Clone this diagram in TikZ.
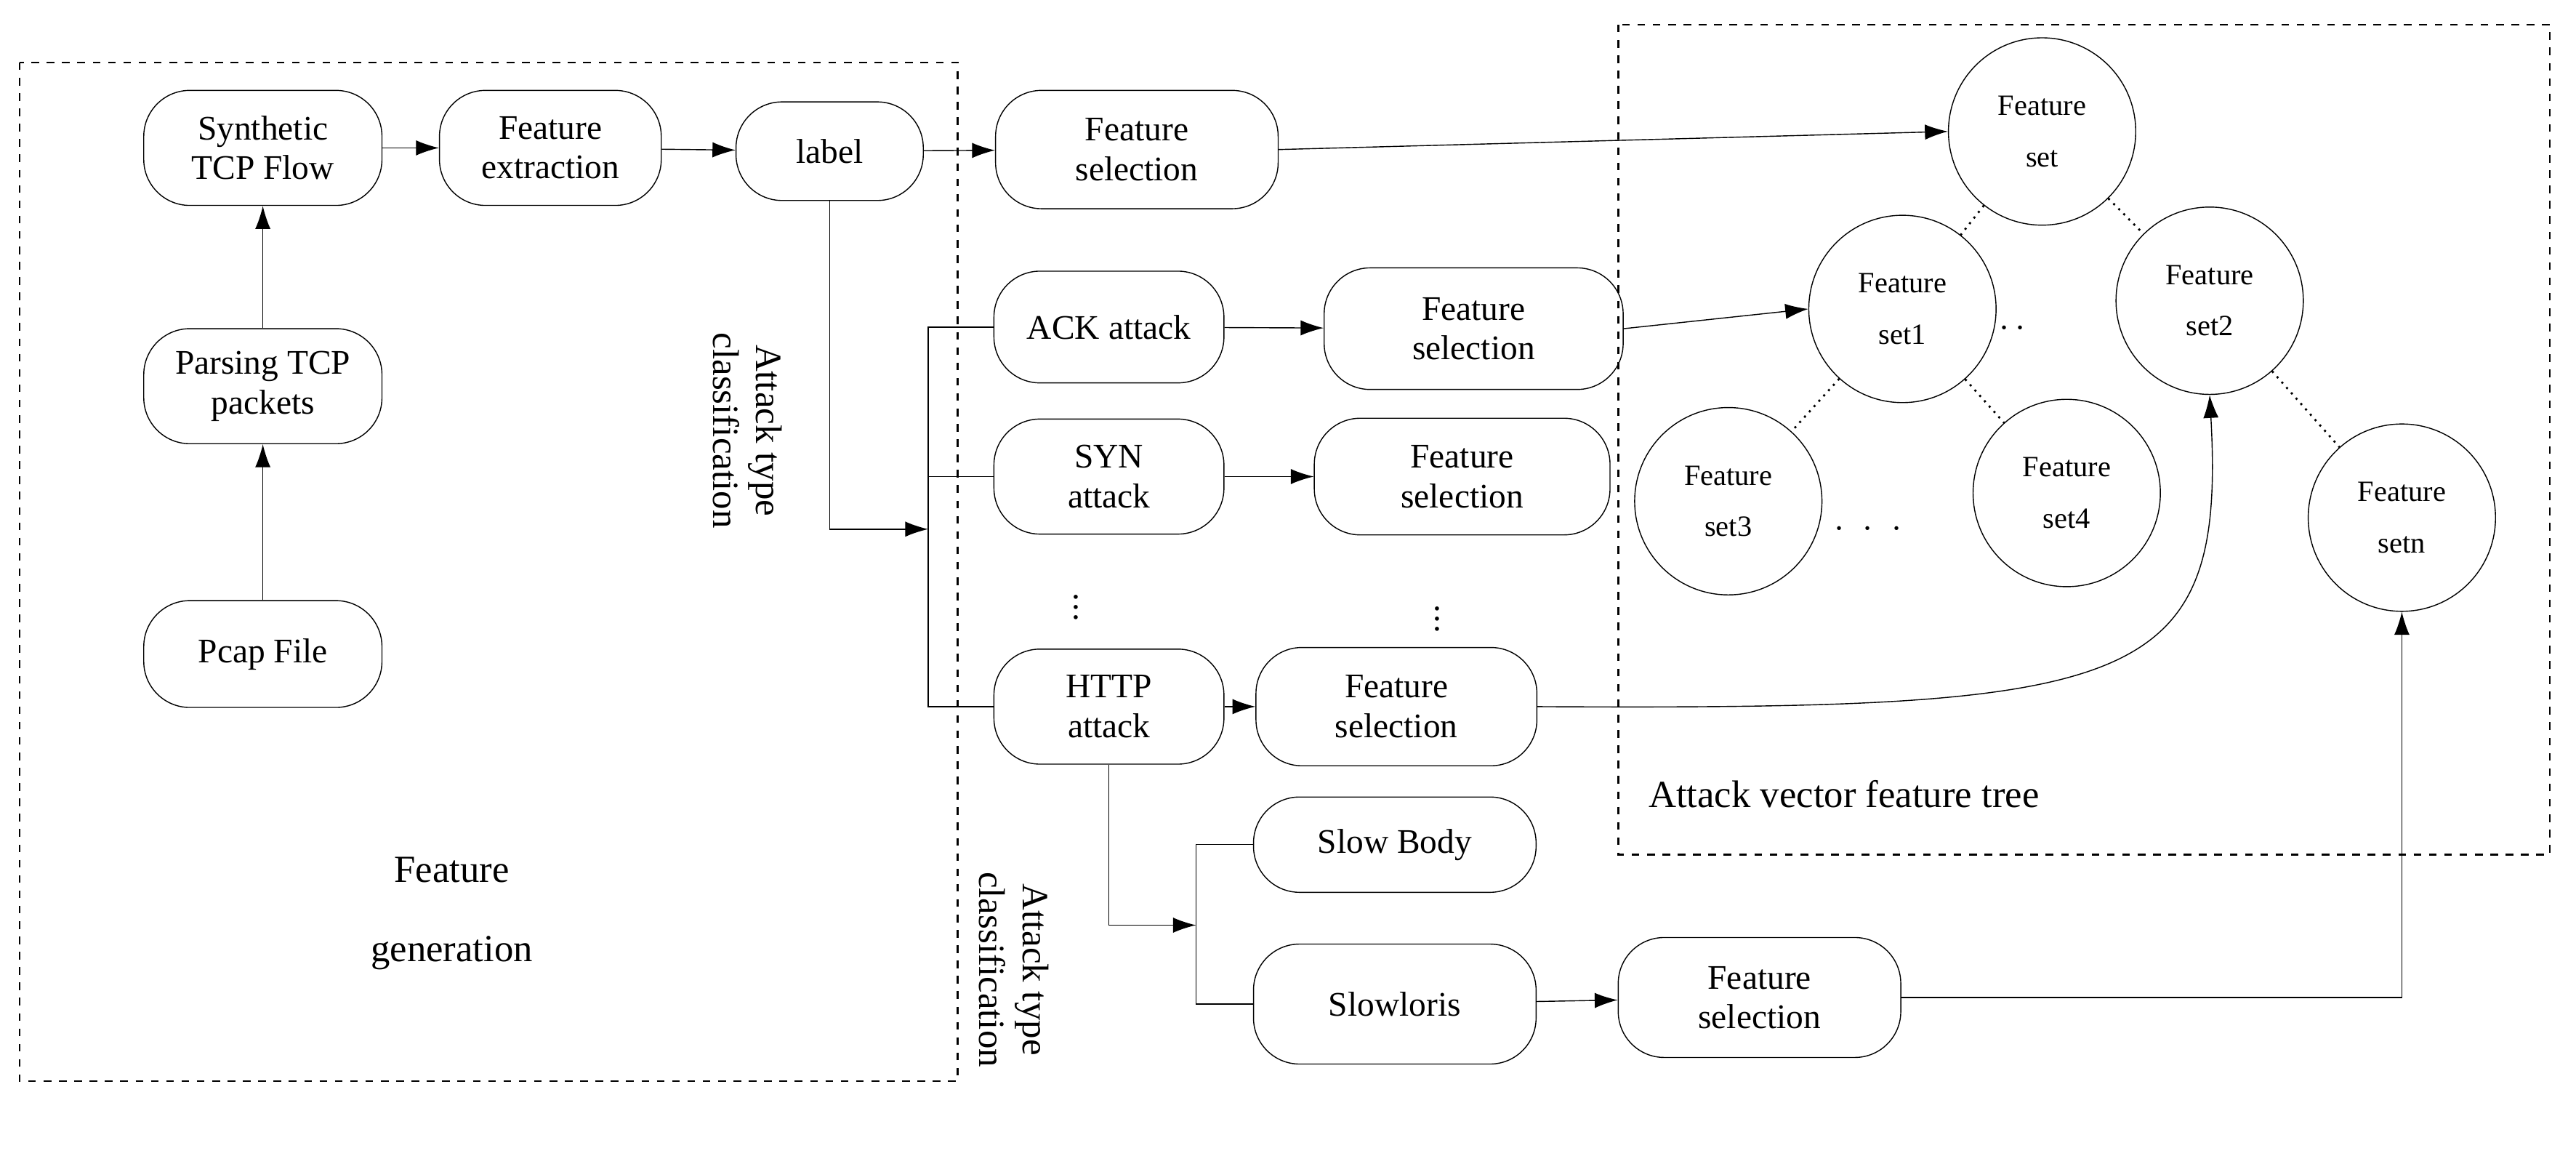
\documentclass[tikz,border=0pt]{standalone}
\usepackage{fontspec}
\setmainfont{Liberation Serif}
\usetikzlibrary{arrows.meta}
\begin{document}
\begin{tikzpicture}[x=0.0226cm,y=-0.0226cm,
 font=\fontsize{13.5}{15.5}\selectfont,
 pill/.style={draw,rounded corners=18pt,align=center,inner sep=1pt},
 circ/.style={draw,circle,minimum size=114*0.0226cm,align=center,inner sep=0pt,font=\fontsize{11.5}{20}\selectfont},
 arr/.style={-{Latex[length=9pt,width=6pt]}},
 dbox/.style={draw,dashed,line width=0.7pt},
 dot/.style={dotted,line width=0.8pt}]
\useasboundingbox (0,0) rectangle (1568,708);
\draw[dbox] (12,38) rectangle (583,658);
\draw[dbox] (985,15) rectangle (1552,520);
\node[pill,minimum width=145*0.0226cm,minimum height=70*0.0226cm] (syn) at (160,90) {Synthetic\\TCP Flow};
\node[pill,minimum width=135*0.0226cm,minimum height=70*0.0226cm] (fe) at (335,90) {Feature\\extraction};
\node[pill,minimum width=114*0.0226cm,minimum height=60*0.0226cm] (lab) at (505,92) {label};
\node[pill,minimum width=172*0.0226cm,minimum height=72*0.0226cm] (fs1) at (692,91) {Feature\\selection};
\node[pill,minimum width=145*0.0226cm,minimum height=70*0.0226cm] (par) at (160,235) {Parsing TCP\\packets};
\node[pill,minimum width=145*0.0226cm,minimum height=65*0.0226cm] (pcap) at (160,398) {Pcap File};
\node[pill,minimum width=140*0.0226cm,minimum height=68*0.0226cm] (ack) at (675,199) {ACK attack};
\node[pill,minimum width=182*0.0226cm,minimum height=74*0.0226cm] (fs2) at (897,200) {Feature\\selection};
\node[pill,minimum width=140*0.0226cm,minimum height=70*0.0226cm] (syna) at (675,290) {SYN\\attack};
\node[pill,minimum width=180*0.0226cm,minimum height=71*0.0226cm] (fs3) at (890,290) {Feature\\selection};
\node[pill,minimum width=140*0.0226cm,minimum height=70*0.0226cm] (http) at (675,430) {HTTP\\attack};
\node[pill,minimum width=171*0.0226cm,minimum height=72*0.0226cm] (fs4) at (850,430) {Feature\\selection};
\node[pill,minimum width=172*0.0226cm,minimum height=58*0.0226cm] (sb) at (849,514) {Slow Body};
\node[pill,minimum width=172*0.0226cm,minimum height=73*0.0226cm] (sl) at (849,611) {Slowloris};
\node[pill,minimum width=172*0.0226cm,minimum height=73*0.0226cm] (fs5) at (1071,607) {Feature\\selection};
\node[inner sep=0pt] at (655,365) {$\vdots$};
\node[inner sep=0pt] at (875,372) {$\vdots$};
\node[align=center,font=\fontsize{15}{31}\selectfont] (fg) at (275,556) {Feature\\generation};
\node[anchor=west,font=\fontsize{15}{17}\selectfont] (avt) at (998,483) {Attack vector feature tree};
\node[rotate=-90,align=center,font=\fontsize{14.5}{17}\selectfont] (atc1) at (455,262) {Attack type\\classification};
\node[rotate=-90,align=center,font=\fontsize{14.5}{17}\selectfont] (atc2) at (617,590) {Attack type\\classification};
\node[circ] (s0) at (1243,80) {Feature\\set};
\node[circ] (s1) at (1158,188) {Feature\\set1};
\node[circ] (s2) at (1345,183) {Feature\\set2};
\node[circ] (s3) at (1052,305) {Feature\\set3};
\node[circ] (s4) at (1258,300) {Feature\\set4};
\node[circ] (sn) at (1462,315) {Feature\\setn};
\node (d1) at (1225,200) {$\cdot\,\cdot$};
\node (d2) at (1137,322) {$\cdot\;\cdot\;\cdot$};
\draw[dot] (s0) -- (s1); \draw[dot] (s0) -- (s2);
\draw[dot] (s1) -- (s3); \draw[dot] (s1) -- (s4);
\draw[dot] (s2) -- (sn);
\draw[arr] (syn) -- (fe);
\draw[arr] (fe) -- (lab);
\draw[arr] (lab) -- (fs1);
\draw[arr] (pcap) -- (par);
\draw[arr] (par) -- (syn);
\draw[arr] (fs1.east) -- (s0.west);
\coordinate (b1) at (565,322);
\draw[arr] (lab.south) |- (b1);
\draw (ack.west) -| (565,430) -- (http.west);
\draw (565,290) -- (syna.west);
\draw[arr] (ack) -- (fs2);
\draw[arr] (syna) -- (fs3);
\draw[arr] (http) -- (fs4);
\draw[arr] (fs2.east) -- (s1.west);
\draw[arr] (fs4.east) .. controls (1300,432) and (1355,420) .. (s2.south);
\coordinate (b2) at (728,563);
\draw[arr] (http.south) |- (b2);
\draw (sb.west) -| (728,611) -- (sl.west);
\draw[arr] (sl) -- (fs5);
\draw[arr] (fs5.east) -| (sn.south);
\end{tikzpicture}
\end{document}
